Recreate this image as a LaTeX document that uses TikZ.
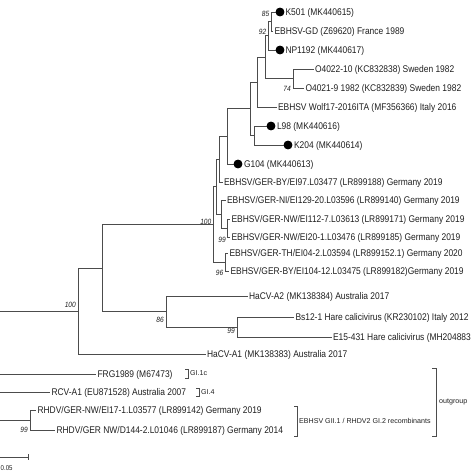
\documentclass[tikz,border=0pt]{standalone}
\usepackage{fontspec}
\setmainfont{Liberation Sans}[FakeStretch=0.87]
\newfontfamily\annfont{Liberation Sans}
\definecolor{linegray}{gray}{0.3}
\definecolor{txt}{gray}{0.12}
\begin{document}
\begin{tikzpicture}[x=1pt,y=-1pt,
  br/.style={draw=linegray, line width=0.8pt},
  leaf/.style={anchor=west, inner xsep=1.5pt, inner ysep=0pt, outer sep=0pt, font=\fontsize{9.7}{11}\selectfont, text=txt, text height=7pt, text depth=0pt},
  dleaf/.style={leaf, inner xsep=0pt},
  bs/.style={anchor=east, inner sep=0pt, font=\fontsize{7.6}{8}\selectfont\itshape, text=txt},
  dotn/.style={circle, fill=black, minimum size=8.6pt, inner sep=0pt},
  ann/.style={anchor=west, inner sep=0pt, font=\annfont\fontsize{7.1}{8}\selectfont, text=txt},
  brk/.style={draw=linegray, line width=0.7pt}]
\useasboundingbox (0,0) rectangle (474,474);
% internal nodes
\coordinate (n85) at (271,21.5);
\coordinate (n92) at (268,35.75);
\coordinate (nO) at (293,78.5);
\coordinate (nC) at (265,57.1);
\coordinate (nD) at (257,82.1);
\coordinate (nLK) at (254,135.5);
\coordinate (nE) at (250,108.8);
\coordinate (nF) at (227,136.4);
\coordinate (nG) at (219,159.2);
\coordinate (nNW) at (227,228);
\coordinate (nNI) at (221,214);
\coordinate (nU) at (216,186.6);
\coordinate (nTB) at (225,262);
\coordinate (n100) at (213,224.3);
\coordinate (n99b) at (237,327);
\coordinate (n86) at (166,311.5);
\coordinate (nB) at (102,267.9);
\coordinate (nA) at (78,311);
\coordinate (nR) at (30,420);
\coordinate (rootA) at (-1,311);
\coordinate (rootF) at (-1,374);
\coordinate (rootC) at (-1,392);
\coordinate (rootH) at (-1,420);
% dots
\node[dotn] (k501d) at (280,12) {};
\node[dotn] (np1192d) at (280,50) {};
\node[dotn] (l98d) at (271,126) {};
\node[dotn] (k204d) at (288,145) {};
\node[dotn] (g104d) at (238,164) {};
% leaves
\node[dleaf] (k501) at (285.5,12) {K501 (MK440615)};
\node[leaf] (gd) at (273,31) {EBHSV-GD (Z69620) France 1989};
\node[dleaf] (np1192) at (285.5,50) {NP1192 (MK440617)};
\node[leaf] (o4022) at (313.5,69) {O4022-10 (KC832838) Sweden 1982};
\node[leaf] (o4021) at (304,88) {O4021-9 1982 (KC832839) Sweden 1982};
\node[leaf] (wolf) at (276.5,107) {EBHSV Wolf17-2016ITA (MF356366) Italy 2016};
\node[dleaf] (l98) at (277,126) {L98 (MK440616)};
\node[dleaf] (k204) at (294,145) {K204 (MK440614)};
\node[dleaf] (g104) at (244,164) {G104 (MK440613)};
\node[leaf] (ei97) at (222.5,182) {EBHSV/GER-BY/EI97.L03477 (LR899188) Germany 2019};
\node[leaf] (ni) at (225.5,200) {EBHSV/GER-NI/EI129-20.L03596 (LR899140) Germany 2019};
\node[leaf] (nw112) at (230,219) {EBHSV/GER-NW/EI112-7.L03613 (LR899171) Germany 2019};
\node[leaf] (nw20) at (230,237) {EBHSV/GER-NW/EI20-1.L03476 (LR899185) Germany 2019};
\node[leaf] (th) at (228,253) {EBHSV/GER-TH/EI04-2.L03594 (LR899152.1) Germany 2020};
\node[leaf] (by104) at (229,271) {EBHSV/GER-BY/EI104-12.L03475 (LR899182)Germany 2019};
\node[leaf] (hacva2) at (247.5,296) {HaCV-A2 (MK138384) Australia 2017};
\node[leaf] (bs12) at (294,317) {Bs12-1 Hare calicivirus (KR230102) Italy 2012};
\node[leaf] (e15) at (331.5,337) {E15-431 Hare calicivirus (MH204883};
\node[leaf] (hacva1) at (205.5,354) {HaCV-A1 (MK138383) Australia 2017};
\node[leaf] (frg) at (96,374) {FRG1989 (M67473)};
\node[leaf] (rcv) at (50,392) {RCV-A1 (EU871528) Australia 2007};
\node[leaf] (rhdv1) at (36,410) {RHDV/GER-NW/EI17-1.L03577 (LR899142) Germany 2019};
\node[leaf] (rhdv2) at (55,430) {RHDV/GER NW/D144-2.L01046 (LR899187) Germany 2014};
% branches
\begin{scope}[br]
\draw (n85) |- (k501d.center); \draw (n85) |- (gd.west);
\draw (n92) |- (n85); \draw (n92) |- (np1192d.center);
\draw (nO) |- (o4022.west); \draw (nO) |- (o4021.west);
\draw (nC) |- (n92); \draw (nC) |- (nO);
\draw (nD) |- (nC); \draw (nD) |- (wolf.west);
\draw (nLK) |- (l98d.center); \draw (nLK) |- (k204d.center);
\draw (nE) |- (nD); \draw (nE) |- (nLK);
\draw (nF) |- (nE); \draw (nF) |- (g104d.center);
\draw (nG) |- (nF); \draw (nG) |- (ei97.west);
\draw (nNW) |- (nw112.west); \draw (nNW) |- (nw20.west);
\draw (nNI) |- (ni.west); \draw (nNI) |- (nNW);
\draw (nU) |- (nG); \draw (nU) |- (nNI);
\draw (nTB) |- (th.west); \draw (nTB) |- (by104.west);
\draw (n100) |- (nU); \draw (n100) |- (nTB);
\draw (n99b) |- (bs12.west); \draw (n99b) |- (e15.west);
\draw (n86) |- (hacva2.west); \draw (n86) |- (n99b);
\draw (nB) |- (n100); \draw (nB) |- (n86);
\draw (nA) |- (nB); \draw (nA) |- (hacva1.west);
\draw (rootA) -- (nA);
\draw (rootF) -- (frg.west);
\draw (rootC) -- (rcv.west);
\draw (rootH) -- (nR); \draw (nR) |- (rhdv1.west); \draw (nR) |- (rhdv2.west);
\end{scope}
% redraw dots on top
\foreach \d in {k501d,np1192d,l98d,k204d,g104d} \fill (\d) circle (4.3pt);
% bootstrap
\node[bs] (b85) at (269.5,14) {85};
\node[bs] (b92) at (266.5,31.5) {92};
\node[bs] (b74) at (291,89) {74};
\node[bs] (b100a) at (211.5,222) {100};
\node[bs] (b99a) at (226,240) {99};
\node[bs] (b96) at (223.5,273) {96};
\node[bs] (b100b) at (76,305) {100};
\node[bs] (b86) at (164,320) {86};
\node[bs] (b99b) at (235,331) {99};
\node[bs] (b99c) at (28,430) {99};
% annotations
\coordinate (g1a) at (185,369); \coordinate (g1b) at (185,378);
\draw[brk] (g1a) -| ++(3,9) -- (g1b);
\node[ann] (g1c) at (190,373.5) {GI.1c};
\coordinate (g4a) at (196,388); \coordinate (g4b) at (196,396);
\draw[brk] (g4a) -| ++(3,8) -- (g4b);
\node[ann] (g4) at (201,392) {GI.4};
\coordinate (rca) at (294,406); \coordinate (rcb) at (294,436);
\draw[brk] (rca) -| ++(3,30) -- (rcb);
\node[ann] (rec) at (299,421) {EBHSV GII.1 / RHDV2 GI.2 recombinants};
\coordinate (oga) at (432,368); \coordinate (ogb) at (432,436);
\draw[brk] (oga) -| ++(4,68) -- (ogb);
\node[ann] (og) at (439,402) {outgroup};
% scale bar
\coordinate (sb0) at (-1,457); \coordinate (sb1) at (28,457);
\draw[br] (sb0) -- (sb1); \draw[br] (28,454) -- (28,460);
\node[anchor=west, inner sep=0pt, font=\fontsize{7}{8}\selectfont, text=txt] (sbl) at (0.5,468) {0.05};
\end{tikzpicture}
\end{document}
